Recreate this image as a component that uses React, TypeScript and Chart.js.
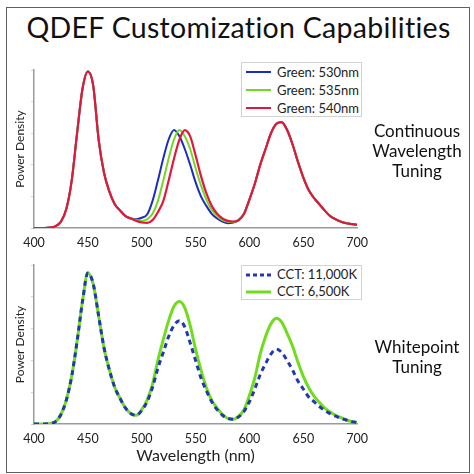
import React, { useEffect, useRef } from "react";
import { Chart, registerables } from "chart.js";

Chart.register(...registerables);

const WAVELENGTHS = [
  400, 405, 410, 415, 420, 425, 430, 435, 440, 445, 450, 455, 460, 465, 470, 475, 480, 485, 490, 495,
  500, 505, 510, 515, 520, 525, 530, 535, 540, 545, 550, 555, 560, 565, 570, 575, 580, 585, 590, 595,
  600, 605, 610, 615, 620, 625, 630, 635, 640, 645, 650, 655, 660, 665, 670, 675, 680, 685, 690, 695, 700,
];

const X_MIN = 400;
const X_MAX = 700;
const X_STEP = 50;

const TITLE = "QDEF Customization Capabilities";
const TOP_NOTE = ["Continuous", "Wavelength", "Tuning"];
const BOTTOM_NOTE = ["Whitepoint", "Tuning"];
const Y_TITLE = "Power Density";
const X_TITLE = "Wavelength (nm)";

// top panel
const TOP_NAMES = ["Green: 530nm", "Green: 535nm", "Green: 540nm"];
const TOP_COLORS = ["#1b2cc4", "#72d824", "#e3173e"];
const GREEN_530 = [
  0, 0, 0, 0.003, 0.012, 0.04, 0.12, 0.3, 0.6, 0.88, 0.99, 0.9, 0.56, 0.35, 0.23, 0.15, 0.11, 0.075, 0.06, 0.055,
  0.065, 0.085, 0.17, 0.3, 0.44, 0.56, 0.62, 0.58, 0.5, 0.4, 0.29, 0.2, 0.14, 0.09, 0.06, 0.04, 0.03, 0.035, 0.05, 0.09,
  0.18, 0.28, 0.4, 0.5, 0.6, 0.66, 0.67, 0.62, 0.53, 0.42, 0.32, 0.24, 0.19, 0.15, 0.11, 0.075, 0.055, 0.04, 0.03, 0.025, 0.02,
];
const GREEN_535 = [
  0, 0, 0, 0.003, 0.012, 0.04, 0.12, 0.3, 0.6, 0.88, 0.99, 0.9, 0.56, 0.35, 0.23, 0.15, 0.11, 0.075, 0.06, 0.05,
  0.045, 0.055, 0.09, 0.17, 0.3, 0.44, 0.56, 0.62, 0.58, 0.5, 0.38, 0.27, 0.18, 0.115, 0.075, 0.05, 0.04, 0.038, 0.05, 0.09,
  0.18, 0.28, 0.4, 0.5, 0.6, 0.66, 0.67, 0.62, 0.53, 0.42, 0.32, 0.24, 0.19, 0.15, 0.11, 0.075, 0.055, 0.04, 0.03, 0.025, 0.02,
];
const GREEN_540 = [
  0, 0, 0, 0.003, 0.012, 0.04, 0.12, 0.3, 0.6, 0.88, 0.99, 0.9, 0.56, 0.35, 0.23, 0.15, 0.11, 0.075, 0.06, 0.045,
  0.035, 0.032, 0.05, 0.1, 0.17, 0.3, 0.44, 0.56, 0.62, 0.58, 0.46, 0.33, 0.22, 0.14, 0.09, 0.06, 0.045, 0.04, 0.05, 0.09,
  0.18, 0.28, 0.4, 0.5, 0.6, 0.66, 0.67, 0.62, 0.53, 0.42, 0.32, 0.24, 0.19, 0.15, 0.11, 0.075, 0.055, 0.04, 0.03, 0.025, 0.02,
];

// bottom panel
const BOTTOM_NAMES = ["CCT: 11,000K", "CCT: 6,500K"];
const BOTTOM_COLORS = ["#2336b4", "#6fdc1e"];
const CCT_11000 = [
  0, 0, 0, 0.003, 0.015, 0.06, 0.15, 0.3, 0.52, 0.77, 0.95, 0.88, 0.68, 0.48, 0.34, 0.23, 0.16, 0.1, 0.065, 0.055,
  0.085, 0.14, 0.23, 0.35, 0.45, 0.55, 0.62, 0.65, 0.61, 0.51, 0.4, 0.29, 0.21, 0.14, 0.09, 0.055, 0.035, 0.03, 0.045, 0.08,
  0.14, 0.22, 0.31, 0.38, 0.44, 0.47, 0.45, 0.4, 0.34, 0.27, 0.22, 0.17, 0.14, 0.11, 0.085, 0.065, 0.05, 0.035, 0.025, 0.015, 0.01,
];
const CCT_6500 = [
  0, 0, 0, 0.003, 0.015, 0.06, 0.15, 0.3, 0.52, 0.77, 0.95, 0.88, 0.68, 0.48, 0.34, 0.23, 0.16, 0.1, 0.065, 0.055,
  0.09, 0.15, 0.25, 0.4, 0.53, 0.65, 0.74, 0.77, 0.73, 0.62, 0.47, 0.34, 0.23, 0.15, 0.1, 0.06, 0.035, 0.03, 0.05, 0.09,
  0.18, 0.29, 0.44, 0.55, 0.63, 0.665, 0.64, 0.57, 0.49, 0.39, 0.3, 0.23, 0.175, 0.135, 0.1, 0.075, 0.055, 0.04, 0.025, 0.015, 0.01,
];

const FONT = "Lato, 'Open Sans', sans-serif";

type SeriesSpec = {
  name: string;
  color: string;
  values: number[];
  width: number;
  dash?: number[];
  order: number;
};

function Panel(props: {
  series: SeriesSpec[];
  width: number;
  height: number;
  xScaleHeight: number;
  xTitle?: string;
  style: React.CSSProperties;
}) {
  const ref = useRef<HTMLCanvasElement | null>(null);
  useEffect(() => {
    if (!ref.current) return;
    const chart = new Chart(ref.current, {
      type: "line",
      data: {
        datasets: props.series.map((s) => ({
          label: s.name,
          data: WAVELENGTHS.map((w, i) => ({ x: w, y: s.values[i] })),
          borderColor: s.color,
          backgroundColor: s.color,
          borderWidth: s.width,
          borderDash: s.dash || [],
          pointRadius: 0,
          cubicInterpolationMode: "monotone" as const,
          fill: false,
          order: s.order,
        })),
      },
      options: {
        animation: false,
        responsive: false,
        maintainAspectRatio: false,
        layout: { padding: { top: 12, right: 14, left: 0, bottom: 0 } },
        plugins: { legend: { display: false }, tooltip: { enabled: false } },
        scales: {
          x: {
            type: "linear",
            min: X_MIN,
            max: X_MAX,
            ticks: {
              stepSize: X_STEP,
              padding: 7,
              color: "#222",
              maxRotation: 0,
              font: { family: FONT, size: 12.5 },
            },
            grid: { display: false, drawTicks: false, tickLength: 0 },
            border: { display: true, color: "#9a9a9a", width: 1.5 },
            title: {
              display: !!props.xTitle,
              text: props.xTitle || "",
              color: "#222",
              font: { family: FONT, size: 16 },
              padding: { top: 0, bottom: 3 },
            },
            afterFit: (s: any) => {
              s.height = props.xScaleHeight;
            },
          },
          y: {
            min: 0,
            max: 1,
            ticks: { display: false, stepSize: 0.2 },
            grid: { drawOnChartArea: false, drawTicks: true, tickLength: 3, color: "#d4d4d4" },
            border: { display: true, color: "#9a9a9a", width: 1.5 },
            title: {
              display: true,
              text: Y_TITLE,
              color: "#222",
              font: { family: FONT, size: 12 },
              padding: { top: 5, bottom: 0 },
            },
            afterFit: (s: any) => {
              s.width = 26;
            },
          },
        },
      },
    } as any);
    return () => chart.destroy();
  }, []);
  return (
    <canvas
      ref={ref}
      width={props.width}
      height={props.height}
      style={{ position: "absolute", width: props.width, height: props.height, ...props.style }}
    />
  );
}

function Legend(props: {
  items: { name: string; color: string; width: number; dash?: number[] }[];
  style: React.CSSProperties;
  rowHeight: number;
}) {
  return (
    <div
      style={{
        position: "absolute",
        background: "#fff",
        border: "1px solid #d2d2d2",
        boxSizing: "border-box",
        paddingLeft: 4,
        fontFamily: FONT,
        fontSize: 13,
        color: "#222",
        ...props.style,
      }}
    >
      {props.items.map((it) => (
        <div
          key={it.name}
          style={{ display: "flex", alignItems: "center", height: props.rowHeight, lineHeight: props.rowHeight + "px" }}
        >
          <svg width={25} height={6} style={{ marginRight: 6, flex: "none" }}>
            <line
              x1={0}
              y1={3}
              x2={25}
              y2={3}
              stroke={it.color}
              strokeWidth={it.width}
              strokeDasharray={it.dash ? it.dash.join(",") : undefined}
            />
          </svg>
          <span style={{ whiteSpace: "nowrap" }}>{it.name}</span>
        </div>
      ))}
    </div>
  );
}

export default function App() {
  const topSeries: SeriesSpec[] = [
    { name: TOP_NAMES[0], color: TOP_COLORS[0], values: GREEN_530, width: 2, order: 2 },
    { name: TOP_NAMES[1], color: TOP_COLORS[1], values: GREEN_535, width: 2, order: 1 },
    { name: TOP_NAMES[2], color: TOP_COLORS[2], values: GREEN_540, width: 2.2, order: 0 },
  ];
  const bottomSeries: SeriesSpec[] = [
    { name: BOTTOM_NAMES[0], color: BOTTOM_COLORS[0], values: CCT_11000, width: 3, dash: [5, 4], order: 0 },
    { name: BOTTOM_NAMES[1], color: BOTTOM_COLORS[1], values: CCT_6500, width: 3, order: 1 },
  ];
  const noteStyle: React.CSSProperties = {
    position: "absolute",
    left: 357,
    width: 120,
    textAlign: "center",
    fontSize: 17,
    lineHeight: "20px",
    color: "#111",
  };
  return (
    <div style={{ position: "absolute", left: 0, top: 0, width: 474, height: 474, fontFamily: FONT }}>
      <div
        style={{
          position: "absolute",
          left: 6,
          top: 7,
          width: 464,
          height: 466,
          border: "1.5px solid #606060",
          boxSizing: "border-box",
          zIndex: 3,
          pointerEvents: "none",
        }}
      />
      <div
        style={{
          position: "absolute",
          left: 8,
          top: 11,
          width: 461,
          textAlign: "center",
          fontSize: 28.5,
          lineHeight: "32px",
          letterSpacing: 0.3,
          color: "#111",
          whiteSpace: "nowrap",
        }}
      >
        {TITLE}
      </div>
      <Panel series={topSeries} width={367} height={200} xScaleHeight={30} style={{ left: 8, top: 58 }} />
      <Panel
        series={bottomSeries}
        width={367}
        height={215}
        xScaleHeight={44}
        xTitle={X_TITLE}
        style={{ left: 8, top: 253 }}
      />
      <Legend
        items={topSeries.map((s) => ({ name: s.name, color: s.color, width: 2 }))}
        rowHeight={18}
        style={{ left: 241, top: 62, width: 121, height: 55 }}
      />
      <Legend
        items={bottomSeries.map((s) => ({ name: s.name, color: s.color, width: s.width, dash: s.dash ? [4, 3] : undefined }))}
        rowHeight={17}
        style={{ left: 241, top: 265, width: 121, height: 35 }}
      />
      <div style={{ ...noteStyle, top: 121 }}>
        {TOP_NOTE.map((t) => (
          <div key={t}>{t}</div>
        ))}
      </div>
      <div style={{ ...noteStyle, top: 337 }}>
        {BOTTOM_NOTE.map((t) => (
          <div key={t}>{t}</div>
        ))}
      </div>
    </div>
  );
}
